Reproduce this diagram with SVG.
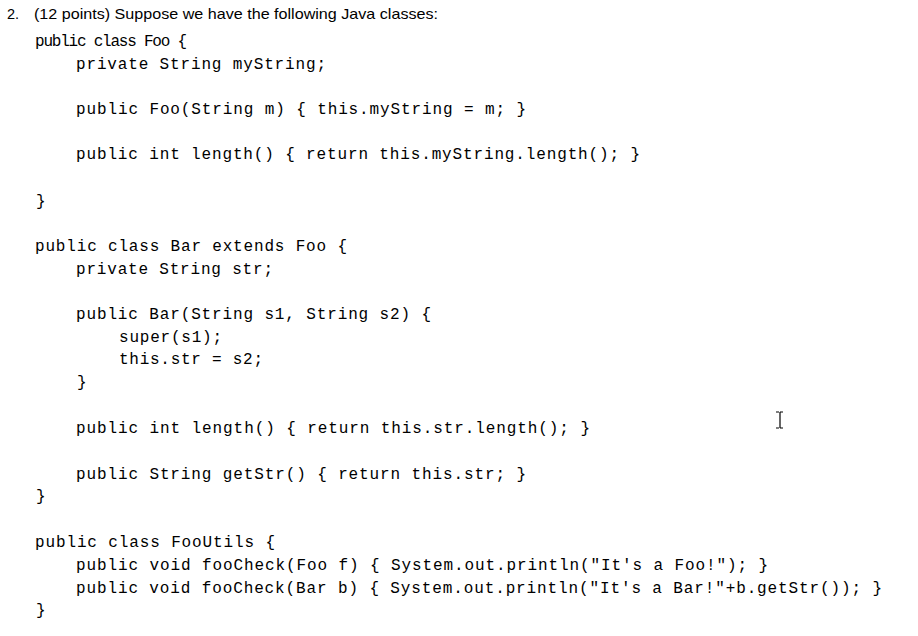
<svg xmlns="http://www.w3.org/2000/svg" width="918" height="636" viewBox="0 0 918 636">
<style>
.h{font-family:"Liberation Sans",Arial,sans-serif;font-size:14.5px;fill:#000}
.c{font-family:"Liberation Mono","Courier New",monospace;font-size:16px;fill:#000;white-space:pre}
</style>
<rect width="918" height="636" fill="#fff"/>
<g id="header">
<text class="h" x="7" y="19">2.</text>
<text class="h" x="34" y="19" textLength="404" lengthAdjust="spacingAndGlyphs">(12 points) Suppose we have the following Java classes:</text>
</g>
<g id="foo">
<text class="c" x="35" y="46" textLength="152" lengthAdjust="spacing">public class Foo {</text>
<text class="c" x="76" y="69" textLength="250" lengthAdjust="spacing">private String myString;</text>
<text class="c" x="76" y="114" textLength="450" lengthAdjust="spacing">public Foo(String m) { this.myString = m; }</text>
<text class="c" x="76" y="159" textLength="564" lengthAdjust="spacing">public int length() { return this.myString.length(); }</text>
<text class="c" x="36" y="206">}</text>
</g>
<g id="bar">
<text class="c" x="35" y="251" textLength="312" lengthAdjust="spacing">public class Bar extends Foo {</text>
<text class="c" x="76" y="274" textLength="197" lengthAdjust="spacing">private String str;</text>
<text class="c" x="76" y="319" textLength="355" lengthAdjust="spacing">public Bar(String s1, String s2) {</text>
<text class="c" x="119" y="342" textLength="103" lengthAdjust="spacing">super(s1);</text>
<text class="c" x="119" y="364" textLength="144" lengthAdjust="spacing">this.str = s2;</text>
<text class="c" x="77" y="387">}</text>
<text class="c" x="76" y="433" textLength="514" lengthAdjust="spacing">public int length() { return this.str.length(); }</text>
<text class="c" x="76" y="479" textLength="450" lengthAdjust="spacing">public String getStr() { return this.str; }</text>
<text class="c" x="36" y="501">}</text>
</g>
<g id="fooutils">
<text class="c" x="35" y="547" textLength="240" lengthAdjust="spacing">public class FooUtils {</text>
<text class="c" x="76" y="570" textLength="692" lengthAdjust="spacing">public void fooCheck(Foo f) { System.out.println("It's a Foo!"); }</text>
<text class="c" x="76" y="593" textLength="806" lengthAdjust="spacing">public void fooCheck(Bar b) { System.out.println("It's a Bar!"+b.getStr()); }</text>
<text class="c" x="36" y="615">}</text>
</g>
<g id="connectors"></g>
<path d="M776 412h3M783 412h-3M780 412v16M776 428h3M783 428h-3" stroke="#000" stroke-width="1.2" fill="none"/>
</svg>
